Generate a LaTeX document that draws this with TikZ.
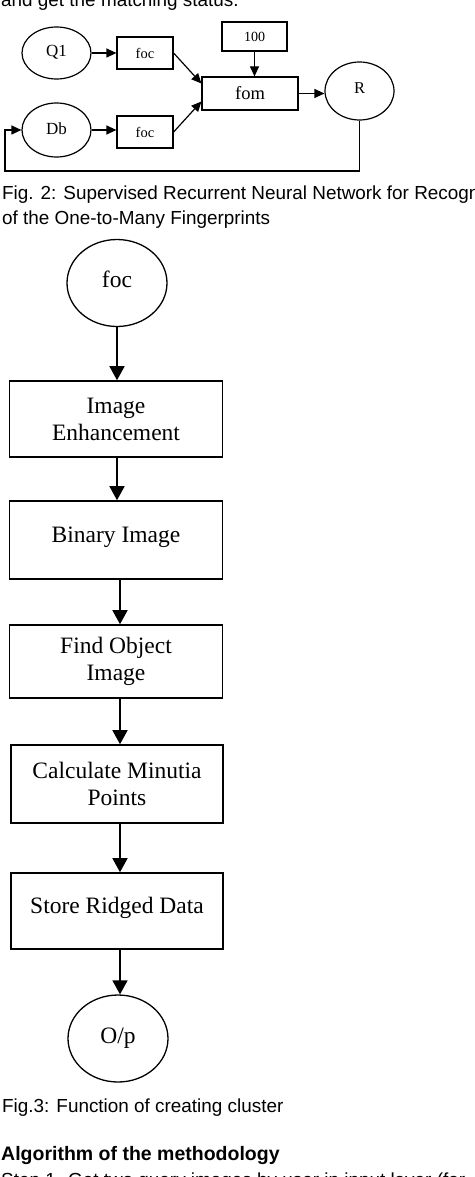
\documentclass[tikz,border=0pt]{standalone}
\usepackage{fontspec}
\setmainfont{Liberation Serif}
\setsansfont{Liberation Sans}
\usetikzlibrary{arrows.meta,shapes.geometric,calc}
\begin{document}
\begin{tikzpicture}[x=1pt,y=-1pt,
  thin box/.style={draw, line width=1.2pt, inner sep=0pt},
  thin ell/.style={ellipse, draw, line width=1.2pt, inner sep=0pt},
  big box/.style={draw, line width=1.6pt, inner sep=0pt, align=center,
    minimum width=213pt, font=\fontsize{23.5}{27}\selectfont},
  big ell/.style={ellipse, draw, line width=1.3pt, inner sep=0pt,
    minimum width=100pt, minimum height=87pt, font=\fontsize{23.5}{27}\selectfont},
  small arr/.style={line width=1.2pt, -{Triangle[length=10pt,width=9pt]}},
  big arr/.style={line width=1.6pt, -{Triangle[length=14pt,width=15pt]}},
  capt/.style={anchor=base west, inner sep=0pt, font=\sffamily\fontsize{18.9}{22}\selectfont},
]
\useasboundingbox (0,0) rectangle (474,1177);

% --- running text and captions ---
\node[capt] (t0) at (1,7) {and get the matching status.};
\node[capt] (c2a) at (2,200) {Fig. 2: Supervised Recurrent Neural Network for Recognition};
\node[capt] (c2b) at (2,224) {of the One-to-Many Fingerprints};
\node[capt] (c3) at (2,1112) {Fig.3: Function of creating cluster};
\node[capt, font=\sffamily\bfseries\fontsize{19.5}{22}\selectfont] (alg) at (1,1160) {Algorithm of the methodology};
\node[capt] (s1) at (1,1186) {Step 1. Get two query images by user in input layer (for};

% --- Fig. 2 ---
\node[thin ell, minimum width=69pt, minimum height=52pt, font=\fontsize{17}{17}\selectfont] (q1) at (56.5,53) {\raisebox{4pt}{Q1}};
\node[thin box, minimum width=56pt, minimum height=32pt, font=\fontsize{14.5}{14.5}\selectfont] (foc1) at (145,53) {foc};
\node[thin box, minimum width=65pt, minimum height=29pt, font=\fontsize{14}{14}\selectfont] (h100) at (254.5,36.5) {100};
\node[thin box, minimum width=96pt, minimum height=33pt, font=\fontsize{18.5}{18.5}\selectfont] (fom) at (250,93.5) {fom};
\node[thin ell, minimum width=69pt, minimum height=58pt, font=\fontsize{16.5}{16.5}\selectfont] (r) at (359.5,91) {\raisebox{5pt}{R}};
\node[thin ell, minimum width=69pt, minimum height=54pt, font=\fontsize{17}{17}\selectfont] (db) at (56.5,130) {\raisebox{2pt}{Db}};
\node[thin box, minimum width=56pt, minimum height=32pt, font=\fontsize{14.5}{14.5}\selectfont] (foc2) at (145,132) {foc};
\coordinate (loop) at (5,171);

\draw[small arr] (q1.east) -- (foc1.west);
\draw[small arr] (db.east) -- (db.east -| foc2.west);
\draw[small arr] (foc1.east) -- ($(fom.west)+(0,-10)$);
\draw[small arr] (foc2.east) -- ($(fom.west)+(0,8)$);
\draw[small arr] (h100.south) -- (h100.south |- fom.north);
\draw[small arr] (fom.east) -- (fom.east -| r.west);
\draw[small arr] (r.south) |- (loop) |- (db.west);

% --- Fig. 3 ---
\node[big ell] (foc) at (117,283) {\raisebox{7pt}{foc}};
\node[big box, minimum height=76pt] (enh) at (116,419) {Image\\Enhancement};
\node[big box, minimum height=78pt] (bin) at (116,540) {\raisebox{10pt}{Binary Image}};
\node[big box, minimum height=73pt] (find) at (116,661.5) {Find Object\\Image};
\node[big box, minimum width=212pt, minimum height=78pt] (calc) at (117,784) {Calculate Minutia\\Points};
\node[big box, minimum width=212pt, minimum height=76pt] (store) at (117,911) {\raisebox{12pt}{Store Ridged Data}};
\node[big ell] (op) at (118,1038.5) {\raisebox{5pt}{O/p}};

\draw[big arr] (foc.south) -- (foc.south |- enh.north);
\draw[big arr] ([xshift=1pt]enh.south) -- ([xshift=1pt]enh.south |- bin.north);
\draw[big arr] ([xshift=4pt]bin.south) -- ([xshift=4pt]bin.south |- find.north);
\draw[big arr] ([xshift=4pt]find.south) -- ([xshift=4pt]find.south |- calc.north);
\draw[big arr] ([xshift=3pt]calc.south) -- ([xshift=3pt]calc.south |- store.north);
\draw[big arr] ([xshift=3pt]store.south) -- ([xshift=3pt]store.south |- op.north);
\end{tikzpicture}
\end{document}
